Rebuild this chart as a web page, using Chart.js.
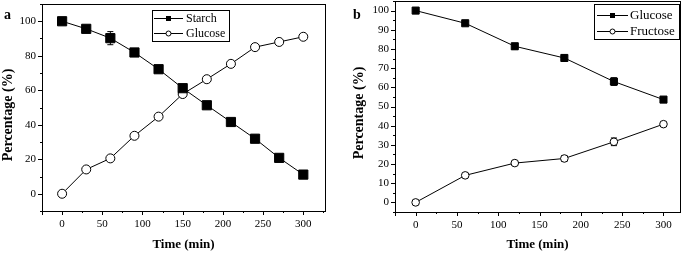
<!DOCTYPE html>
<html>
<head>
<meta charset="utf-8">
<script src="https://cdn.jsdelivr.net/npm/chart.js@4.4.0/dist/chart.umd.min.js"></script>
<style>
    html, body { margin: 0; padding: 0; background: #fff; }
    #wrap { position: relative; width: 685px; height: 253px; overflow: hidden; }
    .box { position: absolute; top: 0; height: 253px; }
    #boxA { left: 0; width: 345px; }
    #boxB { left: 345px; width: 340px; }
    .tag { position: absolute; font: bold 14px "Liberation Serif", serif; color: #000; }
</style>
</head>
<body>
<div id="wrap">
    <div class="box" id="boxA"><canvas id="chartA"></canvas></div>
    <div class="box" id="boxB"><canvas id="chartB"></canvas></div>
    <div class="tag" style="left:4px; top:7px;">a</div>
    <div class="tag" style="left:353px; top:7px;">b</div>
</div>
<script>
// ---- data: panel a ----
let timeA = [0, 30, 60, 90, 120, 150, 180, 210, 240, 270, 300];
let starchA = [100, 95.6, 90.2, 81.9, 72.2, 61.2, 51.3, 41.6, 31.9, 20.8, 11.1];
let glucoseA = [0, 14.1, 20.5, 33.6, 44.7, 57.8, 66.4, 75.3, 85, 88, 91];
let starchErrA = [0.5, 1.5, 3.8, 1, 2, 1, 1.5, 1, 1, 1.5, 1];
let glucoseErrA = [0.5, 1, 1.5, 1, 1.2, 1.5, 1, 1, 1, 1, 1];
let xTicksA = [0, 50, 100, 150, 200, 250, 300];
let yTicksA = [0, 20, 40, 60, 80, 100];

// ---- data: panel b ----
let timeB = [0, 60, 120, 180, 240, 300];
let glucoseB = [100, 93.4, 81.4, 75.3, 63, 53.6];
let fructoseB = [0, 14.1, 20.5, 22.9, 31.6, 40.8];
let glucoseErrB = [0.5, 1, 1.5, 1.5, 2, 0.5];
let fructoseErrB = [0.5, 1, 1, 1.5, 2, 1];
let xTicksB = [0, 50, 100, 150, 200, 250, 300];
let yTicksB = [0, 10, 20, 30, 40, 50, 60, 70, 80, 90, 100];

const serif = '"Liberation Serif", "Times New Roman", serif';

function pts(xs, ys) {
    return xs.map((x, i) => ({ x: x, y: ys[i] }));
}

// frame, outward major/minor ticks, error bars, y title and the boxed legend
const paperPlugin = {
    id: 'paper',
    beforeDatasetsDraw(chart, args, opts) {
        const ctx = chart.ctx;
        const y = chart.scales.y;
        ctx.save();
        ctx.strokeStyle = '#000';
        ctx.lineWidth = 1;
        chart.data.datasets.forEach((ds, di) => {
            const meta = chart.getDatasetMeta(di);
            (ds.errors || []).forEach((e, i) => {
                const p = meta.data[i];
                const top = y.getPixelForValue(ds.data[i].y + e);
                const bot = y.getPixelForValue(ds.data[i].y - e);
                ctx.beginPath();
                ctx.moveTo(p.x, top); ctx.lineTo(p.x, bot);
                ctx.moveTo(p.x - 3, top); ctx.lineTo(p.x + 3, top);
                ctx.moveTo(p.x - 3, bot); ctx.lineTo(p.x + 3, bot);
                ctx.stroke();
            });
        });
        ctx.restore();
    },
    afterDraw(chart, args, opts) {
        const ctx = chart.ctx;
        const a = chart.chartArea;
        const xs = chart.scales.x, ys = chart.scales.y;
        ctx.save();
        ctx.strokeStyle = '#000';
        ctx.lineWidth = 1;
        ctx.strokeRect(Math.round(a.left) + 0.5, Math.round(a.top) + 0.5,
            Math.round(a.right - a.left), Math.round(a.bottom - a.top));
        ctx.beginPath();
        for (let v = xs.min; v <= xs.max + 0.01; v += opts.xMinor) {
            const px = Math.round(xs.getPixelForValue(v)) + 0.5;
            const len = (Math.abs(v % opts.xMajor) < 0.01 || Math.abs(v - xs.min) < 0.01) ? 4 : 2;
            ctx.moveTo(px, a.bottom); ctx.lineTo(px, a.bottom + len);
        }
        for (let v = opts.yStart; v <= ys.max + 0.01; v += opts.yMinor) {
            const py = Math.round(ys.getPixelForValue(v)) + 0.5;
            const len = Math.abs(v % opts.yMajor) < 0.01 ? 4 : 2;
            ctx.moveTo(a.left, py); ctx.lineTo(a.left - len, py);
        }
        ctx.stroke();

        // y axis title
        ctx.save();
        ctx.translate(opts.yTitle.x, opts.yTitle.y);
        ctx.rotate(-Math.PI / 2);
        ctx.font = 'bold 14px ' + serif;
        ctx.fillStyle = '#000';
        ctx.textAlign = 'center';
        ctx.textBaseline = 'middle';
        ctx.fillText('Percentage (%)', 0, 0);
        ctx.restore();

        // legend
        const lg = opts.legend;
        ctx.strokeRect(lg.x + 0.5, lg.y + 0.5, lg.w, lg.h);
        ctx.font = lg.fontSize + 'px ' + serif;
        ctx.fillStyle = '#000';
        ctx.textBaseline = 'middle';
        chart.data.datasets.forEach((ds, i) => {
            const ry = lg.y + lg.rows[i];
            const mx = (lg.symX1 + lg.symX2) / 2;
            ctx.beginPath();
            ctx.moveTo(lg.symX1, ry + 0.5); ctx.lineTo(lg.symX2, ry + 0.5);
            ctx.stroke();
            if (ds.pointStyle === 'rect') {
                ctx.fillStyle = '#000';
                ctx.fillRect(mx - lg.mark, ry - lg.mark + 0.5, lg.mark * 2, lg.mark * 2);
            } else {
                ctx.beginPath();
                ctx.arc(mx, ry + 0.5, lg.mark, 0, Math.PI * 2);
                ctx.fillStyle = '#fff';
                ctx.fill();
                ctx.stroke();
            }
            ctx.fillStyle = '#000';
            ctx.fillText(ds.label, lg.textX, ry + 1);
        });
        ctx.restore();
    }
};

function makeChart(id, cfg) {
    const lineDs = (label, xs, ys, errs, style, r, fill) => ({
        label: label,
        data: pts(xs, ys),
        errors: errs,
        showLine: true,
        borderColor: '#000',
        borderWidth: 1,
        pointStyle: style,
        pointRadius: r,
        pointHoverRadius: r,
        pointBackgroundColor: fill,
        pointBorderColor: '#000',
        pointBorderWidth: 1
    });
    return new Chart(document.getElementById(id), {
        type: 'scatter',
        data: {
            datasets: [
                lineDs(cfg.names[0], cfg.time, cfg.s1, cfg.e1, 'rect', cfg.rRect, '#000'),
                lineDs(cfg.names[1], cfg.time, cfg.s2, cfg.e2, 'circle', cfg.rCirc, '#fff')
            ]
        },
        options: {
            responsive: true,
            maintainAspectRatio: false,
            animation: false,
            layout: { padding: cfg.padding, autoPadding: false },
            plugins: {
                legend: { display: false },
                tooltip: { enabled: false },
                paper: cfg.paper
            },
            scales: {
                x: {
                    type: 'linear',
                    min: cfg.xMin, max: cfg.xMax,
                    afterBuildTicks: (s) => { s.ticks = cfg.xTicks.map(v => ({ value: v })); },
                    afterFit: (s) => { s.height = cfg.xHeight; s.paddingLeft = 0; s.paddingRight = 0; },
                    grid: { display: false, drawTicks: false },
                    border: { display: false },
                    ticks: { color: '#000', font: { family: serif, size: 11 }, padding: 7, maxRotation: 0 },
                    title: {
                        display: true, text: 'Time (min)', color: '#000',
                        font: { family: serif, size: 13, weight: 'bold' },
                        padding: { top: 0, bottom: 1 }
                    }
                },
                y: {
                    min: cfg.yMin, max: cfg.yMax,
                    afterBuildTicks: (s) => { s.ticks = cfg.yTicks.map(v => ({ value: v })); },
                    afterFit: (s) => { s.width = cfg.yWidth; s.paddingTop = 0; s.paddingBottom = 0; },
                    grid: { display: false, drawTicks: false },
                    border: { display: false },
                    ticks: { color: '#000', font: { family: serif, size: 11 }, padding: cfg.yPad }
                }
            }
        },
        plugins: [paperPlugin]
    });
}

makeChart('chartA', {
    names: ['Starch', 'Glucose'],
    time: timeA, s1: starchA, s2: glucoseA, e1: starchErrA, e2: glucoseErrA,
    rRect: 6.5, rCirc: 4.5,
    xMin: -25, xMax: 327, yMin: -10, yMax: 110,
    xTicks: xTicksA, yTicks: yTicksA,
    padding: { top: 4, right: 20, left: 0, bottom: 0 },
    xHeight: 42, yWidth: 42, yPad: 6,
    paper: {
        xMinor: 25, xMajor: 50, yStart: -10, yMinor: 10, yMajor: 20,
        yTitle: { x: 8, y: 115 },
        legend: { x: 152, y: 10, w: 77, h: 31, rows: [8, 23], symX1: 154, symX2: 183, textX: 186, fontSize: 12, mark: 2.5 }
    }
});

makeChart('chartB', {
    names: ['Glucose', 'Fructose'],
    time: timeB, s1: glucoseB, s2: fructoseB, e1: glucoseErrB, e2: fructoseErrB,
    rRect: 5, rCirc: 3.8,
    xMin: -25, xMax: 320, yMin: -5, yMax: 105,
    xTicks: xTicksB, yTicks: yTicksB,
    padding: { top: 1, right: 5, left: 0, bottom: 0 },
    xHeight: 41, yWidth: 50, yPad: 6,
    paper: {
        xMinor: 25, xMajor: 50, yStart: -5, yMinor: 5, yMajor: 10,
        yTitle: { x: 14, y: 113 },
        legend: { x: 249, y: 4, w: 85, h: 35, rows: [11, 27], symX1: 252, symX2: 283, textX: 285, fontSize: 13, mark: 2.5 }
    }
});
</script>
</body>
</html>
